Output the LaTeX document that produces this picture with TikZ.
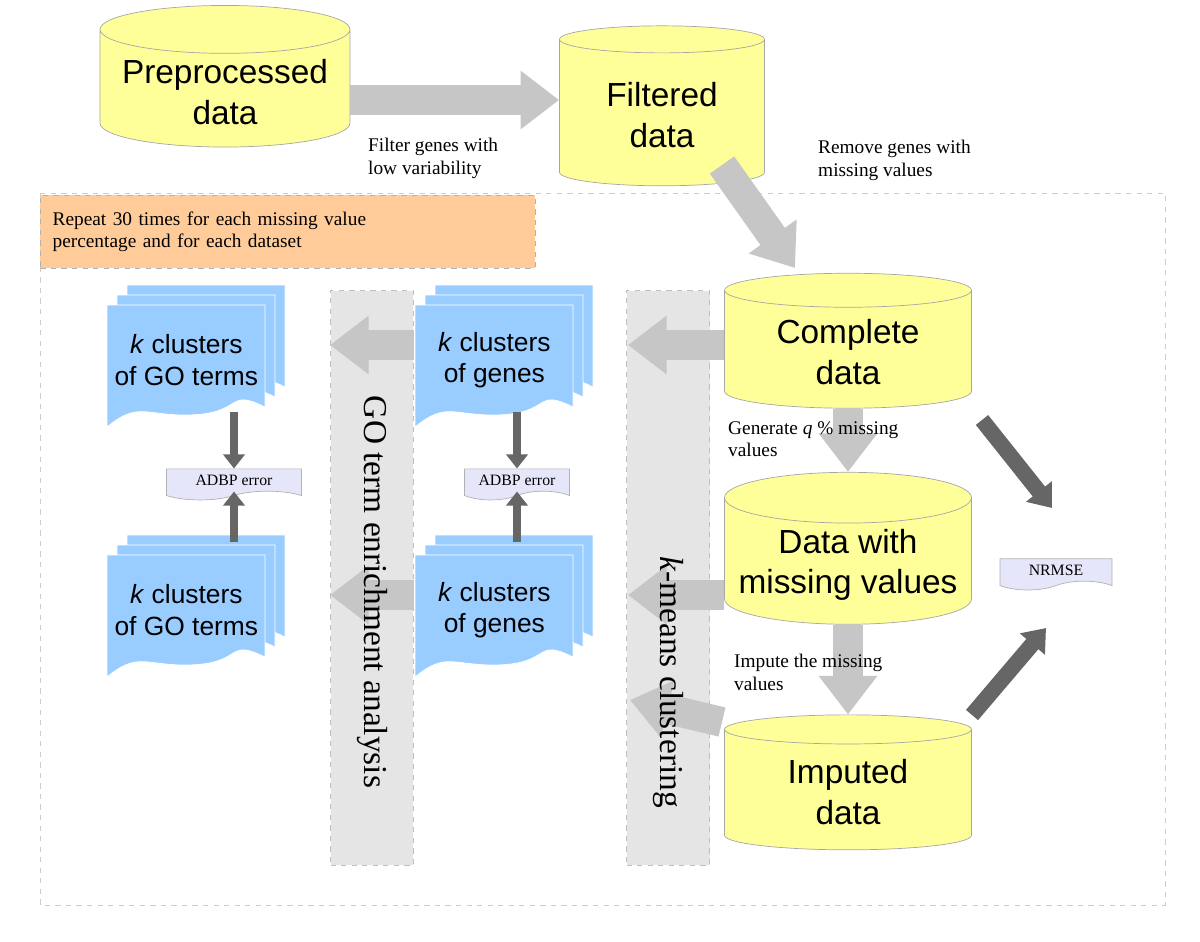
\documentclass[tikz,border=0pt]{standalone}
\usepackage{fontspec}
\setmainfont{Liberation Serif}
\newfontfamily\sanslabel{Liberation Sans}
\usetikzlibrary{arrows.meta,shapes.geometric,shapes.symbols,positioning}
\definecolor{cylfill}{HTML}{FFFF99}
\definecolor{docblue}{HTML}{99CCFF}
\definecolor{tapefill}{HTML}{E6E6FA}
\definecolor{orangebox}{HTML}{FFCC99}
\tikzset{>=Triangle,
  store/.style={cylinder, shape border rotate=90, aspect=0.22, draw=gray!70, fill=cylfill,
    align=center, font=\sanslabel\fontsize{19}{23}\selectfont},
  bigarrow/.style={draw=gray!45, line width=17pt, -{Triangle[length=22pt,width=32pt]}},
  darkarrow/.style={draw=black!60, line width=9pt, -{Triangle[length=12pt,width=18pt]}},
  smallarrow/.style={draw=black!60, line width=5pt, -{Triangle[length=8pt,width=12pt]}},
  note/.style={align=left, font=\fontsize{11}{13}\selectfont, anchor=north west},
  errtape/.style={tape, draw=gray!60, fill=tapefill, font=\fontsize{9}{11}\selectfont,
    minimum height=0.6cm, tape bend top=none},
  stepbar/.style={draw=gray!50, dashed, fill=gray!20, minimum width=1.66cm, minimum height=11.5cm},
  steplabel/.style={rotate=-90, font=\fontsize{19}{23}\selectfont}
}
\newcommand\docstack[4]{% x, y, name, text
  \foreach \o in {2,1,0}
    \fill[docblue, draw=white] (#1+10*\o,#2-10*\o) -- ++(158,0) -- ++(0,102)
      .. controls ++(-40,-20) and ++(60,0) .. ++(-80,8)
      .. controls ++(-40,0) and ++(30,-25) .. ++(-78,12) -- cycle;
  \node[align=center, font=\sanslabel\fontsize{15}{18}\selectfont, minimum width=3.16cm, minimum height=2.2cm,
    anchor=north west] (#3) at (#1,#2) {#4};
}
\begin{document}
\begin{tikzpicture}[x=0.02cm, y=-0.02cm]
  \useasboundingbox (0,0) rectangle (1200,941);

  % outer frame and title
  \draw[gray!40, dashed] (40,193) rectangle (1165,905);
  \node[draw=gray!60, dashed, fill=orangebox, note, text width=9.4cm, minimum height=1.46cm,
    anchor=north west, inner sep=7pt] (rep) at (40,195)
    {Repeat 30 times for each missing value\\percentage and for each dataset};

  % stores
  \node[store, minimum width=5cm, minimum height=2.3cm] (pre) at (225,92) {Preprocessed\\data};
  \node[store, minimum width=4.1cm, minimum height=3.2cm] (fil) at (662,115) {Filtered\\data};
  \node[store, minimum width=4.94cm, minimum height=2.7cm] (com) at (848,352) {Complete\\data};
  \node[store, minimum width=4.94cm, minimum height=2.6cm] (mis) at (848,565) {Data with\\missing values};
  \node[store, minimum width=4.94cm, minimum height=2.7cm] (imp) at (848,792) {Imputed\\data};
  \node[errtape, minimum width=2.24cm] (nrm) at (1056,570) {NRMSE};

  % steps
  \node[stepbar] (km) at (668,578) {};
  \node[stepbar] (go) at (372,578) {};

  \docstack{415}{305}{genA}{\textit{k} clusters\\of genes}
  \docstack{415}{555}{genB}{\textit{k} clusters\\of genes}
  \docstack{107}{305}{goA}{\textit{k} clusters\\of GO terms}
  \docstack{107}{555}{goB}{\textit{k} clusters\\of GO terms}
  \node[errtape, minimum width=2.1cm] (errG) at (517,480) {ADBP error};
  \node[errtape, minimum width=2.7cm] (errT) at (234,480) {ADBP error};

  % flow
  \draw[bigarrow] (pre.east |- 0,100) -- (fil.west |- 0,100);
  \draw[bigarrow] (722,165) -- (795,268);
  \draw[bigarrow] (com.south) -- (mis.north);
  \draw[bigarrow] (mis.south) -- (imp.north);
  \draw[bigarrow] (com.west |- 0,345) -- (628,345);
  \draw[bigarrow] (mis.west |- 0,595) -- (628,595);
  \draw[bigarrow] (722,722) -- (630,700);
  \draw[bigarrow] (go.east |- 0,345) -- (330,345);
  \draw[bigarrow] (go.east |- 0,595) -- (330,595);
  \draw[darkarrow] (982,420) -- (1052,508);
  \draw[darkarrow] (972,715) -- (1046,628);
  \draw[smallarrow] (517,412) -- (errG.north);
  \draw[smallarrow] (517,542) -- (errG.south);
  \draw[smallarrow] (234,412) -- (errT.north);
  \draw[smallarrow] (234,542) -- (errT.south);

  % labels
  \node[steplabel] at (668,682) {\textit{k}-means clustering};
  \node[steplabel] at (372,592) {GO term enrichment analysis};
  \node[note] at (362,132) {Filter genes with\\low variability};
  \node[note] at (812,134) {Remove genes with\\missing values};
  \node[note] at (722,415) {Generate \textit{q} \% missing\\values};
  \node[note] at (728,648) {Impute the missing\\values};
\end{tikzpicture}
\end{document}
